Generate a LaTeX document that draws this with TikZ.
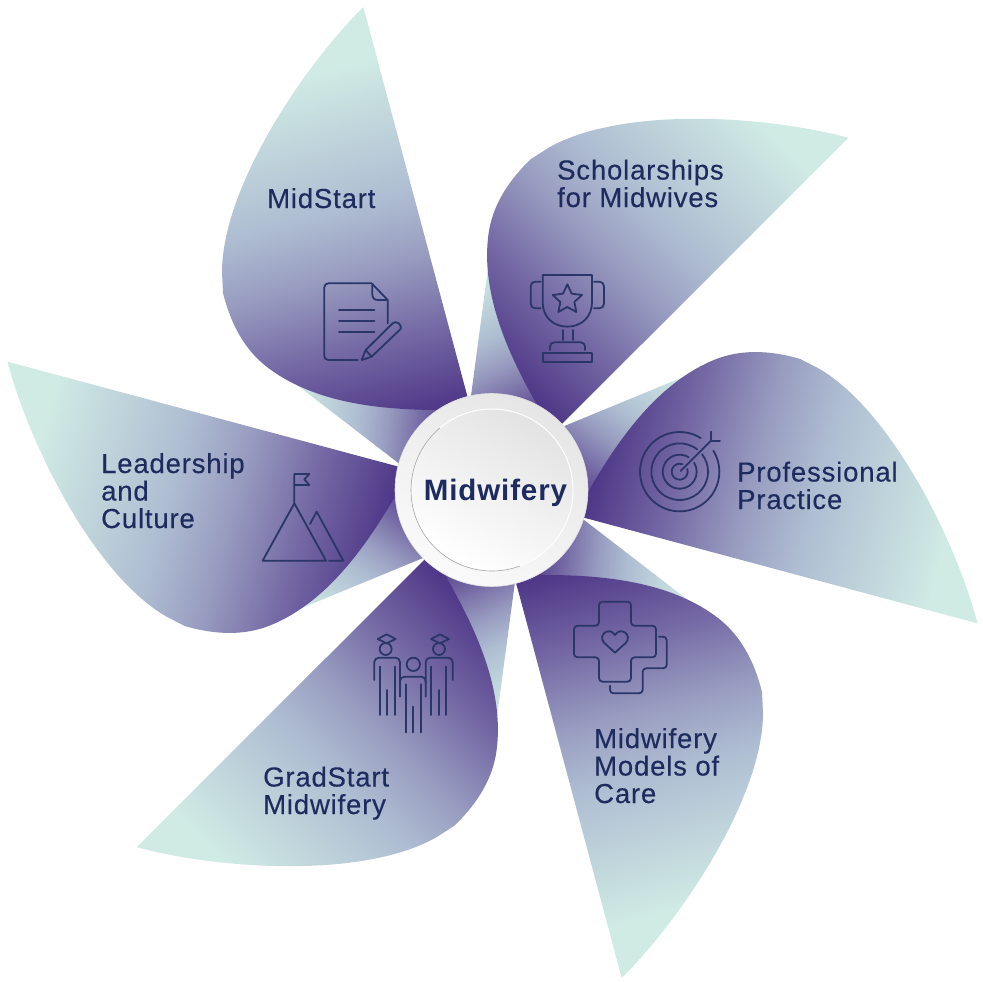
\documentclass[tikz,border=0pt]{standalone}
\usepackage{fontspec}
\setmainfont[LetterSpace=3,FakeBold=0.3,BoldFeatures={FakeBold=0}]{Liberation Sans}
\definecolor{pA}{HTML}{4F3888}
\definecolor{pB}{HTML}{7468A4}
\definecolor{pC}{HTML}{989CC0}
\definecolor{pD}{HTML}{AEBDD2}
\definecolor{pE}{HTML}{D0EAE4}
\definecolor{ink}{HTML}{1E2B5E}
\definecolor{iconink}{HTML}{2A3568}
\pgfdeclareverticalshading{petalramp}{100bp}{color(0bp)=(pA); color(25bp)=(pA); color(36bp)=(pB); color(46.5bp)=(pC); color(55.5bp)=(pD); color(75bp)=(pE); color(100bp)=(pE)}
\newcommand{\petalpath}{(363.3,7) .. controls (300,70) and (222,190) .. (222,272) -- (223,293) .. controls (231,325) and (245,350) .. (267,367) .. controls (310,400) and (370,410) .. (440,410) -- (455,412) -- (478,436) -- cycle}
\newcommand{\wedgepath}{(297,385) -- (410,472) -- (470,420) -- (440,400) -- cycle}
\newcommand{\ramp}[3]{%
  \begin{scope}[transform canvas={rotate around={#1:(492.5,492.5)}}]
    \fill[pA] (-300,492.5-#2-1) rectangle (1300,1400);
    \fill[pE] (-300,492.5-#3+1) rectangle (1300,-400);
    \shade[shading=petalramp] (-300,492.5-#2) rectangle (1300,492.5-#3);
  \end{scope}}
\tikzset{
  label text/.style={anchor=base west,inner sep=0pt,align=left,text=ink,font=\fontsize{27.5}{27.5}\selectfont},
  icon/.style={draw=iconink,line width=1.8pt,line cap=round,line join=round,fill=none},
  zoomed/.style={x=0.33333pt,y=-0.33333pt}
}
\begin{document}
\begin{tikzpicture}[x=1pt,y=-1pt]
\useasboundingbox (0,0) rectangle (983,982);
% wedges
\foreach \k in {0,...,5}{
  \pgfmathsetmacro{\ang}{-60*\k}
  \begin{scope}[transform canvas={rotate around={\ang:(492.5,492.5)}}]
    \begin{scope}
      \clip \wedgepath;
      \ramp{85}{40}{205}
    \end{scope}
  \end{scope}
}
% petals
\foreach \k in {0,...,5}{
  \pgfmathsetmacro{\ang}{-60*\k}
  \begin{scope}[transform canvas={rotate around={\ang:(492.5,492.5)}}]
    \begin{scope}
      \clip \petalpath;
      \ramp{15}{95}{450}
    \end{scope}
  \end{scope}
}
% hub
\node[circle,inner sep=0pt,minimum size=193pt,draw=black!13,line width=0.6pt,shading=axis,top color=black!10,bottom color=black!2,shading angle=-30] (hub) at (491.5,490) {};
\node[circle,inner sep=0pt,minimum size=162pt,shading=axis,top color=black!11,bottom color=white,shading angle=-30] (hubin) at (492,490) {};
\begin{scope}[shift={(492,490)},x=1pt,y=1pt]
  \draw[black!35,line width=0.6pt] (130:81) arc[start angle=130,end angle=290,radius=81];
  \draw[white,line width=1pt] (-70:81) arc[start angle=-70,end angle=130,radius=81];
\end{scope}
\node[anchor=base,inner sep=0pt,text=ink,font=\fontsize{29.5}{30}\selectfont\bfseries] (hublabel) at (495.5,500.7) {Midwifery};
% labels
\node[label text] (l1) at (267,208) {MidStart};
\node[label text] (l2) at (557,207) {Scholarships\\for Midwives};
\node[label text] (l3) at (737,509) {Professional\\Practice};
\node[label text] (l4) at (594,803) {Midwifery\\Models of\\Care};
\node[label text] (l5) at (263,814) {GradStart\\Midwifery};
\node[label text] (l6) at (101,528) {Leadership\\and\\Culture};
% document icon
\begin{scope}[shift={(315,275)},zoomed]
  \draw[icon] (128,255) -- (40,255) .. controls (33,255) and (28,250) .. (28,243) -- (28,37) .. controls (28,30) and (33,25) .. (40,25) -- (170,25) -- (218,75) -- (218,145);
  \draw[icon] (172,30) -- (172,58) .. controls (172,68) and (178,75) .. (188,75) -- (218,75);
  \draw[icon] (72,104) -- (178,104) (72,138) -- (178,138) (72,172) -- (178,172);
  \draw[icon] (140,255) -- (152,225) -- (233,145) .. controls (243,135) and (262,148) .. (257,162) -- (170,245) -- cycle;
  \draw[icon] (152,225) -- (170,245);
\end{scope}
% trophy icon
\begin{scope}[shift={(520,265)},zoomed]
  \draw[icon] (68,30) -- (216,30) -- (216,112) .. controls (216,155) and (185,185) .. (142,185) .. controls (99,185) and (68,155) .. (68,112) -- cycle;
  \draw[icon] (62,50) -- (46,50) .. controls (38,50) and (32,56) .. (32,64) -- (32,116) .. controls (32,124) and (38,130) .. (46,130) -- (62,130);
  \draw[icon] (222,50) -- (238,50) .. controls (246,50) and (252,56) .. (252,64) -- (252,116) .. controls (252,124) and (246,130) .. (238,130) -- (222,130);
  \draw[icon] (142,58) -- (155,86) -- (186,90) -- (163,111) -- (169,141) -- (142,126) -- (115,141) -- (121,111) -- (98,90) -- (129,86) -- cycle;
  \draw[icon] (128,195) -- (128,225) (158,195) -- (158,225);
  \draw[icon] (90,255) -- (90,245) .. controls (90,237) and (95,232) .. (103,232) -- (182,232) .. controls (190,232) and (195,237) .. (195,245) -- (195,255);
  \draw[icon] (68,263) rectangle (216,290);
\end{scope}
% target icon
\begin{scope}[shift={(630,420)},zoomed]
  \draw[icon] (242,63) -- (152,153);
  \draw[icon] (242,35) -- (242,63) -- (270,63);
\end{scope}
\begin{scope}[shift={(679.7,471.7)},x=0.33333pt,y=0.33333pt]
  \draw[icon] (58:119) arc[start angle=58,end angle=392,radius=119];
  \draw[icon] (52:85) arc[start angle=52,end angle=398,radius=85];
  \draw[icon] (58:51) arc[start angle=58,end angle=392,radius=51];
  \draw[icon] (70:24) arc[start angle=70,end angle=380,radius=24];
\end{scope}
% cross icon
\begin{scope}[shift={(560,420)},zoomed]
  \draw[icon,rounded corners=3.5pt] (117,617) -- (117,545) -- (213,545) -- (213,617) -- (288,617) -- (288,712) -- (213,712) -- (213,785) -- (117,785) -- (117,712) -- (42,712) -- (42,617) -- cycle;
  \draw[icon,rounded corners=3.5pt] (297,650) -- (320,650) -- (320,745) -- (248,745) -- (248,820) -- (150,820) -- (150,797);
  \draw[icon] (165,698) -- (132,668) .. controls (112,645) and (148,618) .. (165,645) .. controls (182,618) and (218,645) .. (198,668) -- cycle;
\end{scope}
% people icon
\begin{scope}[shift={(365,625)},zoomed]
  \draw[icon] (38,42) -- (65,28) -- (92,42) -- (65,55) -- cycle;
  \draw[icon] (198,42) -- (225,28) -- (252,42) -- (225,55) -- cycle;
  \draw[icon] (62,72) circle[radius=18];
  \draw[icon] (222,72) circle[radius=18];
  \draw[icon] (145,118) circle[radius=20];
  \draw[icon,rounded corners=4.5pt] (28,165) -- (28,98) -- (105,98) -- (105,215);
  \draw[icon,rounded corners=4.5pt] (182,215) -- (182,98) -- (263,98) -- (263,165);
  \draw[icon] (45,125) -- (45,270) (90,125) -- (90,270) (67,195) -- (67,270);
  \draw[icon] (198,125) -- (198,270) (243,125) -- (243,270) (222,195) -- (222,270);
  \draw[icon,rounded corners=4.5pt] (105,175) -- (105,155) -- (182,155) -- (182,175);
  \draw[icon] (122,178) -- (122,322) (168,178) -- (168,322) (145,245) -- (145,322);
\end{scope}
% mountain icon
\begin{scope}[shift={(250,460)},zoomed]
  \draw[icon] (133,130) -- (38,302) -- (228,302) -- cycle;
  \draw[icon] (180,192) -- (200,155) -- (280,302) -- (237,302);
  \draw[icon] (133,130) -- (133,42) -- (178,42) -- (163,58) -- (178,75) -- (133,75);
\end{scope}
\end{tikzpicture}
\end{document}
